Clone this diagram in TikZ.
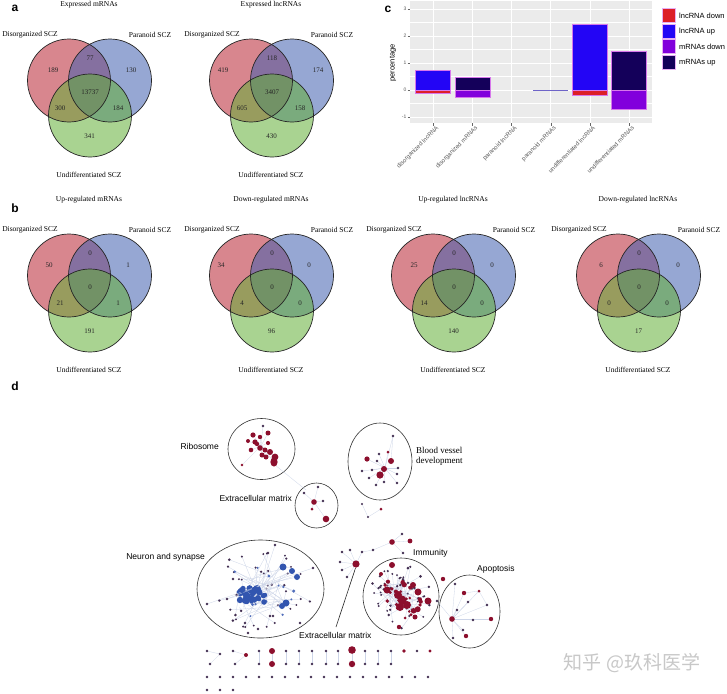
\documentclass[tikz,border=0pt]{standalone}
\usepackage{fontspec}
\setmainfont{Liberation Serif}
\setsansfont{Liberation Sans}
\newfontfamily\cjk{Noto Sans CJK SC}
\definecolor{vred}{RGB}{185,35,50}
\definecolor{vblue}{RGB}{65,95,175}
\definecolor{vgreen}{RGB}{100,175,55}
\definecolor{cred}{RGB}{220,30,40}
\definecolor{cblue}{RGB}{35,5,245}
\definecolor{cpurple}{RGB}{130,0,220}
\definecolor{cnavy}{RGB}{20,0,90}
\definecolor{cline}{RGB}{215,120,235}
\definecolor{panelbg}{RGB}{235,235,235}
\definecolor{dred}{RGB}{140,15,45}
\definecolor{ndark}{RGB}{65,45,80}
\definecolor{nblue}{RGB}{50,85,175}
\definecolor{edgec}{RGB}{205,213,232}
\definecolor{wm}{RGB}{200,200,200}

\newcommand\vennbase[1]{%
 \fill[vred,fill opacity=0.55] (69,80.5) circle[radius=41.5];
 \fill[vblue,fill opacity=0.55] (110,80.5) circle[radius=41.5];
 \fill[vgreen,fill opacity=0.55] (90,115.5) circle[radius=41.5];
 \draw[vc] (69,80.5) circle[radius=41.5];
 \draw[vc] (110,80.5) circle[radius=41.5];
 \draw[vc] (90,115.5) circle[radius=41.5];
 \node[vt] at (89,5) {#1};
 \node[vt] at (30,35) {Disorganized SCZ};
 \node[vt] at (150,35) {Paranoid SCZ};
 \node[vt] at (89,175) {Undifferentiated SCZ};}
\newcommand\vennnums[9]{%
 \node[vn] at (#1,70) {#3};
 \node[vn] at (90,58.5) {#4};
 \node[vn] at (#2,70) {#5};
 \node[vn] at (90,92) {#6};
 \node[vn] at (60,108.3) {#7};
 \node[vn] at (118,108.3) {#8};
 \node[vn] at (89.5,136.5) {#9};}

\newcommand\scatter[9]{%
 \pgfmathsetseed{#9}%
 \foreach \k in {1,...,#5}{%
   \pgfmathsetmacro\myang{360*rnd}%
   \pgfmathsetmacro\myrad{sqrt(rnd)}%
   \pgfmathsetmacro\mysz{#7+#8*rnd*rnd}%
   \pgfmathsetmacro\myhx{#1+0.9*#3*(rnd-0.5)}%
   \pgfmathsetmacro\myhy{#2+0.9*#4*(rnd-0.5)}%
   \draw[edge] ({#1+#3*\myrad*cos(\myang)},{#2+#4*\myrad*sin(\myang)}) -- (\myhx,\myhy);
 }%
 \pgfmathsetseed{#9}%
 \foreach \k in {1,...,#5}{%
   \pgfmathsetmacro\myang{360*rnd}%
   \pgfmathsetmacro\myrad{sqrt(rnd)}%
   \pgfmathsetmacro\mysz{#7+#8*rnd*rnd}%
   \pgfmathsetmacro\myhx{#1+0.9*#3*(rnd-0.5)}%
   \pgfmathsetmacro\myhy{#2+0.9*#4*(rnd-0.5)}%
   \fill[#6] ({#1+#3*\myrad*cos(\myang)},{#2+#4*\myrad*sin(\myang)}) circle[radius=\mysz];
 }}

\begin{document}
\begin{tikzpicture}[x=1pt,y=-1pt,
  vt/.style={font=\fontsize{7.5}{8}\selectfont, inner sep=0},
  vn/.style={font=\fontsize{7}{8}\selectfont, inner sep=0, text=black!85},
  vc/.style={line width=0.7pt, draw=black!85},
  plet/.style={font=\sffamily\bfseries\fontsize{12}{12}\selectfont, inner sep=0},
  tk/.style={font=\sffamily\fontsize{5}{6}\selectfont, text=black!65, inner sep=0},
  xl/.style={font=\sffamily\fontsize{6}{7}\selectfont, text=black!65, inner sep=0},
  lg/.style={font=\sffamily\fontsize{7.5}{8}\selectfont, inner sep=0, anchor=west},
  netl/.style={font=\sffamily\fontsize{8.5}{10}\selectfont, inner sep=0},
  serl/.style={font=\rmfamily\fontsize{9}{10}\selectfont, inner sep=0, anchor=west},
  edge/.style={draw=edgec, line width=0.3pt},
  ell/.style={draw=black!80, line width=0.6pt},
  bar/.style={draw=cline, line width=0.5pt}]
\useasboundingbox (0,0) rectangle (727,693);
\fill[white] (0,0) rectangle (727,693);

% ---------- panel letters
\node[plet] (la) at (15,8) {a};
\node[plet] (lb) at (15,208) {b};
\node[plet] (lc) at (388,9) {c};
\node[plet] (ld) at (15,386) {d};

% ---------- panel a
\begin{scope}
 \vennbase{Expressed mRNAs}
 \vennnums{53}{131}{189}{77}{130}{13737}{300}{184}{341}
\end{scope}
\begin{scope}[shift={(182,0)}]
 \vennbase{Expressed lncRNAs}
 \vennnums{41}{136}{419}{118}{174}{3407}{605}{158}{430}
\end{scope}

% ---------- panel b
\begin{scope}[shift={(0,195)}]
 \vennbase{Up-regulated mRNAs}
 \vennnums{49}{128}{50}{0}{1}{0}{21}{1}{191}
\end{scope}
\begin{scope}[shift={(182,195)}]
 \vennbase{Down-regulated mRNAs}
 \vennnums{39}{127}{34}{0}{0}{0}{4}{0}{96}
\end{scope}
\begin{scope}[shift={(364,195)}]
 \vennbase{Up-regulated lncRNAs}
 \vennnums{50}{128}{25}{0}{0}{0}{14}{0}{140}
\end{scope}
\begin{scope}[shift={(549,195)}]
 \vennbase{Down-regulated lncRNAs}
 \vennnums{52}{129}{6}{0}{0}{0}{0}{0}{17}
\end{scope}

% ---------- panel c
\fill[panelbg] (410,1) rectangle (652,123);
\foreach \v in {-0.5,0.5,1.5,2.5} \draw[white,line width=0.35pt] (410,{90-27*\v}) -- (652,{90-27*\v});
\foreach \v in {-1,0,1,2,3} \draw[white,line width=0.8pt] (410,{90-27*\v}) -- (652,{90-27*\v});
\foreach \x in {433.2,472.3,511.6,550.7,590,629} {
  \draw[white,line width=0.8pt] (\x,1) -- (\x,123);
  \draw[black!60,line width=0.4pt] (\x,123) -- (\x,125.5);}
% bars
\filldraw[bar,fill=cblue] (415.7,90) rectangle (450.7,69.8);
\filldraw[bar,fill=cred] (415.7,90) rectangle (450.7,93.2);
\filldraw[bar,fill=cnavy] (454.8,90) rectangle (489.8,77.3);
\filldraw[bar,fill=cpurple] (454.8,90) rectangle (489.8,97.3);
\draw[line width=0.6pt, draw={rgb,255:red,110;green,100;blue,200}] (533.2,90) -- (568.2,90);
\filldraw[bar,fill=cblue] (572.5,90) rectangle (607.5,24.7);
\filldraw[bar,fill=cred] (572.5,90) rectangle (607.5,95.4);
\filldraw[bar,fill=cnavy] (611.5,90) rectangle (646.5,51.7);
\filldraw[bar,fill=cpurple] (611.5,90) rectangle (646.5,108.9);
% y axis
\foreach \v/\t in {-1/-1,0/0,1/1,2/2,3/3} {
  \draw[black!60,line width=0.4pt] (407.5,{90-27*\v}) -- (410,{90-27*\v});
  \node[tk,anchor=east] at (406.5,{90-27*\v}) {\t};}
\node[font=\sffamily\fontsize{7.5}{8}\selectfont, rotate=90, inner sep=0] (ylab) at (393,63) {percentage};
% x labels
\foreach \x/\t in {433.2/disorganized lncRNA, 472.3/disorganized mRNAs, 511.6/paranoid lncRNA, 550.7/paranoid mRNAs, 590/undifferentiated lncRNA, 629/undifferentiated mRNAs}
  \node[xl, rotate=45, anchor=north east] at ({\x+2.5},125.5) {\t};
% legend
\foreach \c/\y/\t in {cred/15.7/lncRNA down, cblue/31.2/lncRNA up, cpurple/46.7/mRNAs down, cnavy/62.2/mRNAs up} {
  \filldraw[fill=\c, draw=cline!60, line width=0.5pt] (662,{\y-7}) rectangle (675.5,{\y+7});
  \node[lg] at (679,\y) {\t};}

% ---------- panel d : cluster outlines
\draw[ell] (261.5,449) ellipse [x radius=33.5, y radius=30.5];
\draw[ell] (380,461.5) ellipse [x radius=32, y radius=38.5];
\draw[ell] (316.5,505.5) ellipse [x radius=21.5, y radius=22.5];
\draw[ell] (260.5,589) ellipse [x radius=63.5, y radius=49];
\draw[ell] (401,596.5) ellipse [x radius=38, y radius=38.5];
\draw[ell] (469.5,611.5) ellipse [x radius=30.5, y radius=36.5];

% labels
\node[netl, anchor=east] (tribo) at (219,446) {Ribosome};
\node[netl, anchor=east] (tecm1) at (292,498) {Extracellular matrix};
\node[netl, anchor=east] (tneur) at (205,557) {Neuron and synapse};
\node[serl] (tbv1) at (416,450) {Blood vessel};
\node[serl] (tbv2) at (416,461.5) {development};
\node[netl, anchor=west] (timm) at (413,553) {Immunity};
\node[netl, anchor=west] (tapo) at (477,569) {Apoptosis};
\node[netl, anchor=west] (tecm2) at (299,635) {Extracellular matrix};
\coordinate (ecmtip) at (355.5,568);
\draw[black!85, line width=0.6pt] (336,627) -- (ecmtip);

% Ribosome cluster
\draw[edge] (275,465) -- (306,490);
\foreach \p in {(263,426),(253,435),(260,437),(268,433),(255,442),(251,450),(260,448),(265,450),(270,452),(262,455),(275,457),(274,462),(266,457),(268,443),(257,444),(248,441),(242,465)}
  \draw[edge] (261,446) -- \p;
\fill[ndark] (263,426) circle[radius=1.3];
\foreach \p/\r in {(253,435)/2.6,(260,437)/2.2,(268,433)/2.5,(255,442)/2.6,(251,450)/2.3,(260,448)/2.8,(265,450)/2.5,(270,452)/3,(262,455)/2.5,(275,457)/3.4,(266,457)/2.5,(268,443)/2.1,(257,444)/2.2,(248,441)/2,(242,465)/1.3}
  \fill[dred] \p circle[radius=\r];
\fill[dred] (274,462) ellipse [x radius=3.6, y radius=4.6];

% ECM upper
\draw[edge] (304,493) -- (314,502) -- (326,519);
\draw[edge] (318,487) -- (314,502) -- (323,501);
\draw[edge] (314,502) -- (312,509);
\foreach \p in {(304,493),(318,487),(323,501)} \fill[ndark] \p circle[radius=1.3];
\fill[dred] (314,502) circle[radius=2.8];
\fill[dred] (312,509) circle[radius=1.5];
\fill[dred] (326,519) circle[radius=3.3];

% Blood vessel
\foreach \p in {(393,436),(388,452),(379,454),(367,459),(377,461),(362,471),(372,470),(369,478),(398,468),(397,474),(384,482),(376,485),(397,483),(380,475),(384,469)}
  \draw[edge] (385,468) -- \p;
\draw[edge] (393,436) -- (391,461);
\foreach \p in {(393,436),(379,454),(377,461),(362,471),(372,470),(369,478),(398,468),(397,474),(384,482),(376,485),(397,483)}
  \fill[ndark] \p circle[radius=1.3];
\fill[dred] (388,452) circle[radius=1.5];
\fill[dred] (367,459) circle[radius=2.6];
\fill[dred] (391,461) circle[radius=3];
\fill[dred] (384,469) circle[radius=3];
\fill[dred] (380,475) circle[radius=3.6];
\draw[edge] (362,504) -- (368,517) -- (381,509);
\foreach \p in {(362,504),(368,517)} \fill[ndark] \p circle[radius=1.2];
\fill[dred] (381,509) circle[radius=1.5];

% Neuron and synapse
\scatter{262}{590}{52}{40}{40}{ndark}{1.0}{0.6}{12}
\scatter{262}{592}{42}{32}{14}{nblue!85}{1.0}{0.8}{13}
\scatter{251}{595}{15}{8}{38}{nblue}{2.0}{2.6}{11}
\foreach \p in {(283,567),(292,571),(297,577),(286,603),(282,606),(275,545),(268,553),(313,568),(207,604),(227,599)}
  \draw[edge] (262,585) -- \p;
\foreach \p/\r in {(283,567)/3.5,(292,571)/3,(297,577)/3,(286,603)/3.5,(282,606)/3,(264,602)/2.8,(240,600)/3.2,(255,590)/3.5,(247,596)/3.5,(242,590)/3,(258,598)/3}
  \fill[nblue] \p circle[radius=\r];
\foreach \p in {(275,545),(268,553),(313,568),(207,604),(227,599),(300,623),(245,623),(258,629),(248,633),(270,616),(273,616),(233,579)}
  \fill[ndark] \p circle[radius=1.3];

% Immunity
\scatter{400}{597}{32}{32}{55}{ndark}{1.0}{0.7}{21}
\scatter{402}{598}{22}{22}{25}{dred}{1.4}{2}{22}
\foreach \p/\r in {(392,565)/3,(387,590)/3.5,(398,595)/4,(402,600)/4.5,(400,607)/4,(413,585)/3,(418,592)/3.5,(428,601)/3.5,(415,617)/2.5,(399,627)/2.2,(381,574)/2,(407,605)/4}
  \fill[dred] \p circle[radius=\r];
\fill[dred] (443,579) circle[radius=2.2];

% Apoptosis
\foreach \p in {(455,584),(464,593),(479,591),(468,602),(457,610),(473,620),(466,636),(453,638),(491,619),(487,605),(463,630),(437,601)}
  \draw[edge] (452,619) -- \p;
\draw[edge] (464,593) -- (479,591) -- (487,605);
\foreach \p in {(455,584),(468,602),(457,610),(473,620),(453,638),(487,605),(463,630),(437,601)}
  \fill[ndark] \p circle[radius=1.3];
\foreach \p/\r in {(464,593)/2.2,(479,591)/1.5,(466,636)/2.2,(491,619)/2.2,(452,619)/2.8}
  \fill[dred] \p circle[radius=\r];

% component near lower ECM
\foreach \p in {(342,552),(350,550),(362,552),(340,562),(342,570),(347,577)}
  \draw[edge] (356,564) -- \p;
\draw[edge] (362,552) -- (373,550) -- (392,542) -- (402,534);
\draw[edge] (392,542) -- (410,541);
\draw[edge] (392,542) -- (403,553);
\foreach \p in {(342,552),(350,550),(362,552),(373,550),(340,562),(342,570),(347,577),(402,534),(403,553)}
  \fill[ndark] \p circle[radius=1.3];
\fill[dred] (356,564) circle[radius=3.6];
\fill[dred] (392,542) circle[radius=2.8];
\fill[dred] (410,541) circle[radius=2.4];

% small components at bottom
\draw[edge] (207,651) -- (220,654) -- (210,664);
\draw[edge] (233,651) -- (246,655) -- (235,664);
\foreach \x in {259,272,286,299,312,326,338,352,365,378,391}
  \draw[edge] (\x,651) -- (\x,664);
\foreach \x in {207,233,259,286,299,312,326,338,365,378,391,417}
  \fill[ndark] (\x,651) circle[radius=1.3];
\fill[ndark] (220,654) circle[radius=1.3];
\fill[dred] (246,655) circle[radius=2];
\fill[dred] (272,651) circle[radius=3];
\fill[dred] (352,650) circle[radius=3.8];
\fill[dred] (404,651) circle[radius=1.8];
\fill[dred] (430,651) circle[radius=1.6];
\foreach \x in {210,235,259,286,299,312,326,338,365,378,391}
  \fill[ndark] (\x,664) circle[radius=1.3];
\fill[dred] (272,664) circle[radius=3];
\fill[dred] (352,664) circle[radius=3.2];
\foreach \i in {0,...,17}
  \fill[ndark] ({207+13*\i},677) circle[radius=1.3];
\foreach \x in {207,220,233}
  \fill[ndark] (\x,690) circle[radius=1.3];

% watermark
\node[font=\cjk\fontsize{19}{19}\selectfont, text=wm, inner sep=0] (wmk) at (632,663) {知乎 @玖科医学};
\end{tikzpicture}
\end{document}
